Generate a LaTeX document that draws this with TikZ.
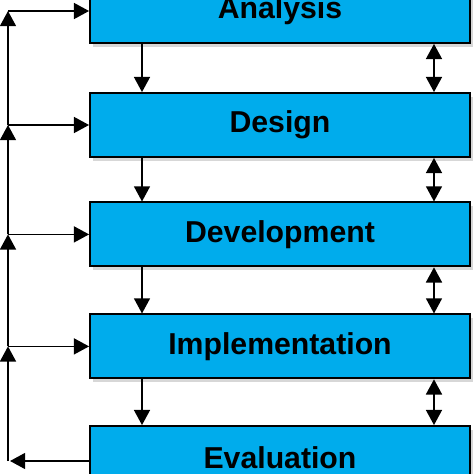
\documentclass[tikz,border=0pt]{standalone}
\usepackage{fontspec}
\setmainfont{Liberation Sans}
\usetikzlibrary{arrows.meta,shadows}
\definecolor{phaseblue}{RGB}{0,172,236}
\tikzset{
	phase/.style={draw=black, line width=1.3pt, fill=phaseblue, minimum width=9.5cm, minimum height=1.6cm,
		font=\fontsize{21.5}{25}\selectfont\bfseries,
		drop shadow={shadow xshift=0.07cm, shadow yshift=-0.09cm, fill=black!35, opacity=0.45}},
	flow/.style={line width=1.2pt, -{Triangle[length=3.8mm,width=4mm]}},
	both/.style={line width=1.2pt, {Triangle[length=3.8mm,width=4mm]}-{Triangle[length=3.8mm,width=4mm]}}
}

\begin{document}
\begin{tikzpicture}
		%%%%% START %%%%%
		
		\clip (0, 0) rectangle (11.85, 11.85);
		\useasboundingbox (0, 0) rectangle (11.85, 11.85);
		
		\coordinate (rail) at (0.2, 0);
		
		\node[phase] (ana) at (7, 11.575) {Analysis};
		\node[phase] (des) at (7, 8.725) {Design};
		\node[phase] (dev) at (7, 5.99) {Development};
		\node[phase] (imp) at (7, 3.19) {Implementation};
		\node[phase] (eva) at (7, 0.4) {Evaluation};
		
		\draw[flow] ([xshift=-3.45cm]ana.south) -- ([xshift=-3.45cm]des.north);
		\draw[flow] ([xshift=-3.45cm]des.south) -- ([xshift=-3.45cm]dev.north);
		\draw[flow] ([xshift=-3.45cm]dev.south) -- ([xshift=-3.45cm]imp.north);
		\draw[flow] ([xshift=-3.45cm]imp.south) -- ([xshift=-3.45cm]eva.north);
		
		\draw[both] ([xshift=3.85cm]ana.south) -- ([xshift=3.85cm]des.north);
		\draw[both] ([xshift=3.85cm]des.south) -- ([xshift=3.85cm]dev.north);
		\draw[both] ([xshift=3.85cm]dev.south) -- ([xshift=3.85cm]imp.north);
		\draw[both] ([xshift=3.85cm]imp.south) -- ([xshift=3.85cm]eva.north);
		
		\draw[flow] ([yshift=-0.075cm]eva.west) -- ([xshift=0.05cm,yshift=-0.075cm]eva.west -| rail);
		\draw[flow] ([yshift=-0.075cm]eva.west -| rail) -- (imp.west -| rail);
		\draw[flow] (imp.west -| rail) -- (dev.west -| rail);
		\draw[flow] (dev.west -| rail) -- (des.west -| rail);
		\draw[flow] (des.west -| rail) -- (ana.west -| rail);
		
		\draw[flow] (imp.west -| rail) -- (imp.west);
		\draw[flow] (dev.west -| rail) -- (dev.west);
		\draw[flow] (des.west -| rail) -- (des.west);
		\draw[flow] (ana.west -| rail) -- (ana.west);
		
		%%%%% END %%%%%
	\end{tikzpicture}
\end{document}
